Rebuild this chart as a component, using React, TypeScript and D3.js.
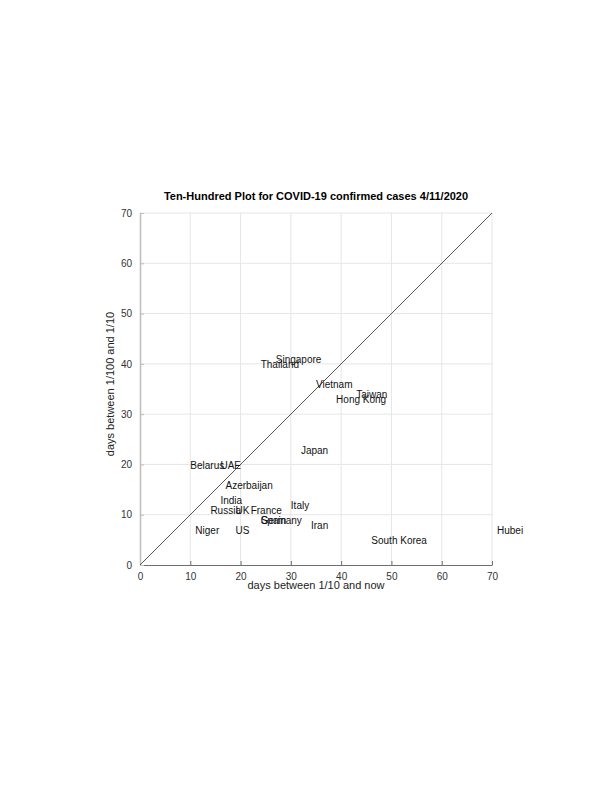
import { useEffect, useRef } from "react";
import * as d3 from "d3";

// Country labels placed at (days between 1/10 and now, days between 1/100 and 1/10)
const countries = [
  "Singapore", "Thailand", "Vietnam", "Taiwan", "Hong Kong", "Japan",
  "Belarus", "UAE", "Azerbaijan", "India", "Russia", "UK", "France",
  "Italy", "Germany", "Spain", "Iran", "Niger", "US", "South Korea", "Hubei",
];
const daysSince10 = [27, 24, 35, 43, 39, 32, 10, 16, 17, 16, 14, 19, 22, 30, 24, 24, 34, 11, 19, 46, 71];
const daysBetween = [41, 40, 36, 34, 33, 23, 20, 20, 16, 13, 11, 11, 11, 12, 9, 9, 8, 7, 7, 5, 7];

const ticks = [0, 10, 20, 30, 40, 50, 60, 70];
const domain: [number, number] = [0, 70];

const FONT = "Liberation Sans, Arial, Helvetica, sans-serif";

export default function App() {
  const ref = useRef<SVGSVGElement | null>(null);

  useEffect(() => {
    if (!ref.current) return;
    const svgEl = d3.select(ref.current);
    svgEl.selectAll("*").remove();

    const margin = { left: 140, top: 213, right: 120, bottom: 227 };
    const W = 612;
    const H = 792;
    const width = W - margin.left - margin.right;
    const height = H - margin.top - margin.bottom;

    const x = d3.scaleLinear().domain(domain).range([0, width]);
    const y = d3.scaleLinear().domain(domain).range([height, 0]);

    const g = svgEl
      .append("g")
      .attr("transform", `translate(${margin.left},${margin.top})`);

    // grid
    g.selectAll(".gx")
      .data(ticks.slice(1))
      .enter()
      .append("line")
      .attr("x1", (d) => x(d))
      .attr("x2", (d) => x(d))
      .attr("y1", 0)
      .attr("y2", height)
      .attr("stroke", "#e6e6e6")
      .attr("stroke-width", 1);
    g.selectAll(".gy")
      .data(ticks.slice(1))
      .enter()
      .append("line")
      .attr("x1", 0)
      .attr("x2", width)
      .attr("y1", (d) => y(d))
      .attr("y2", (d) => y(d))
      .attr("stroke", "#e6e6e6")
      .attr("stroke-width", 1);

    // axes
    const xAxis = g
      .append("g")
      .attr("transform", `translate(0,${height})`)
      .call(d3.axisBottom(x).tickValues(ticks).tickSizeInner(-4).tickSizeOuter(0).tickPadding(8));
    xAxis.select(".domain").attr("stroke", "#6e6e6e");
    xAxis.selectAll("line").attr("stroke", "#6e6e6e");
    xAxis
      .selectAll("text")
      .attr("fill", "#333")
      .style("font-family", FONT)
      .style("font-size", "10px");

    const yAxis = g
      .append("g")
      .call(d3.axisLeft(y).tickValues(ticks).tickSizeInner(-4).tickSizeOuter(0).tickPadding(8));
    yAxis.select(".domain").attr("stroke", "#bdbdbd").attr("stroke-width", 1.5);
    yAxis.selectAll("line").attr("stroke", "#bdbdbd");
    yAxis
      .selectAll("text")
      .attr("fill", "#333")
      .style("font-family", FONT)
      .style("font-size", "10px");

    // diagonal
    g.append("line")
      .attr("x1", x(0))
      .attr("y1", y(0))
      .attr("x2", x(70))
      .attr("y2", y(70))
      .attr("stroke", "#555")
      .attr("stroke-width", 1);

    // labels
    g.selectAll(".lbl")
      .data(countries)
      .enter()
      .append("text")
      .attr("x", (_, i) => x(daysSince10[i]))
      .attr("y", (_, i) => y(daysBetween[i]))
      .attr("dy", "0.42em")
      .attr("fill", "#111")
      .style("font-family", FONT)
      .style("font-size", "10px")
      .text((d) => d);

    // title and axis labels
    svgEl
      .append("text")
      .attr("x", margin.left + width / 2)
      .attr("y", 200)
      .attr("text-anchor", "middle")
      .attr("font-weight", "bold")
      .style("font-family", FONT)
      .style("font-size", "11px")
      .text("Ten-Hundred Plot for COVID-19 confirmed cases 4/11/2020");

    svgEl
      .append("text")
      .attr("x", margin.left + width / 2)
      .attr("y", 589)
      .attr("text-anchor", "middle")
      .attr("fill", "#222")
      .style("font-family", FONT)
      .style("font-size", "11px")
      .text("days between 1/10 and now");

    svgEl
      .append("text")
      .attr("transform", `translate(114,384) rotate(-90)`)
      .attr("text-anchor", "middle")
      .attr("fill", "#222")
      .style("font-family", FONT)
      .style("font-size", "11px")
      .text("days between 1/100 and 1/10");
  }, []);

  return (
    <svg
      ref={ref}
      width={612}
      height={792}
      style={{ position: "absolute", left: 0, top: 0, background: "#fff" }}
    />
  );
}
